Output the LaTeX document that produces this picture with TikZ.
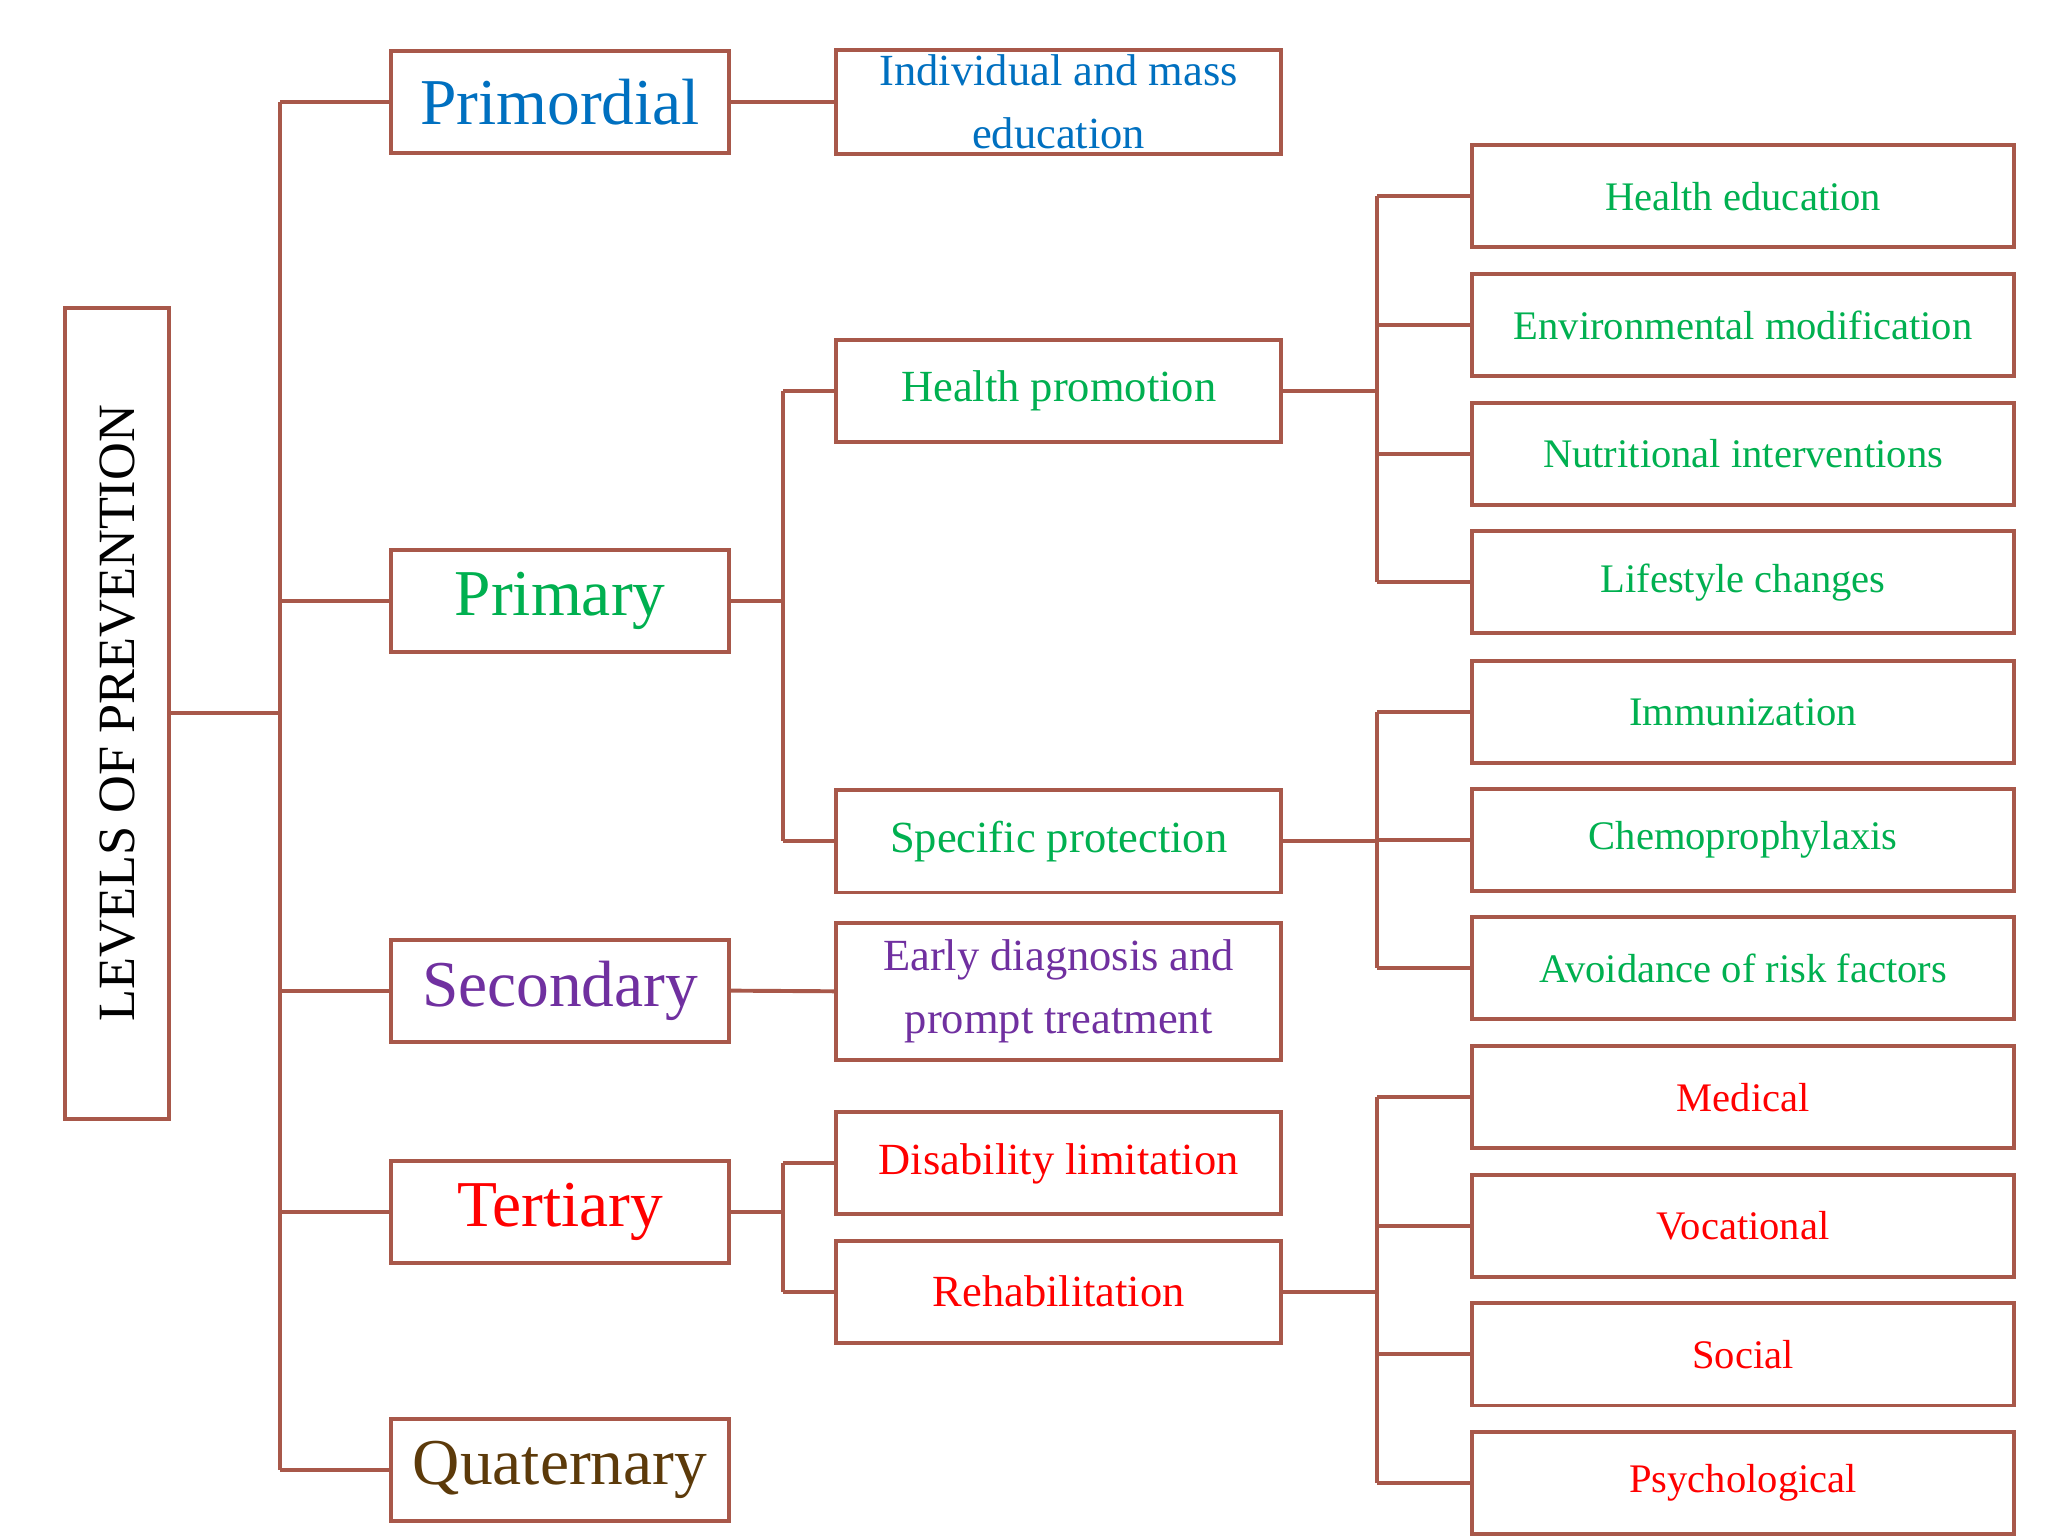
\documentclass[tikz,border=0pt]{standalone}
\usepackage{fontspec}
\setmainfont{Liberation Serif}
\definecolor{ln}{HTML}{A8584A}
\definecolor{cb}{HTML}{0070C0}
\definecolor{cg}{HTML}{00B050}
\definecolor{cp}{HTML}{7030A0}
\definecolor{cr}{HTML}{FF0000}
\definecolor{cq}{HTML}{5C3A0A}
\tikzset{
 box/.style={draw=ln,line width=1.5pt,fill=white,inner sep=2pt,align=center},
 lvtwo/.style={box,minimum width=129pt,minimum height=39pt,font=\fontsize{25}{28}\selectfont},
 lvthree/.style={box,minimum width=170pt,minimum height=39pt,font=\fontsize{17}{24}\selectfont},
 lvfour/.style={box,minimum width=207pt,minimum height=39pt,font=\fontsize{15.5}{18}\selectfont,text=cg},
 conn/.style={draw=ln,line width=1.5pt}
}
\begin{document}
\begin{tikzpicture}[x=0.5pt,y=-0.5pt]
\useasboundingbox (0,0) rectangle (1565,1174);
\node[box,minimum width=310pt,minimum height=39.5pt,rotate=90,font=\fontsize{20}{22}\selectfont] (lev) at (89.5,545) {LEVELS OF PREVENTION};
\node[lvtwo,text=cb] (pm) at (428,78) {Primordial};
\node[lvtwo,text=cg] (pr) at (428,459) {Primary};
\node[lvtwo,text=cp] (se) at (428,757) {Secondary};
\node[lvtwo,text=cr] (te) at (428,926) {Tertiary};
\node[lvtwo,text=cq] (qu) at (428,1123) {Quaternary};
\node[lvthree,text=cb] (ind) at (809,78) {Individual and mass\\education};
\node[lvthree,text=cg] (hp) at (809,299) {Health promotion};
\node[lvthree,text=cg] (sp) at (809,643) {Specific protection};
\node[lvthree,text=cp,minimum height=52.5pt] (ed) at (809,757.5) {Early diagnosis and\\prompt treatment};
\node[lvthree,text=cr] (dl) at (809,889) {Disability limitation};
\node[lvthree,text=cr] (rh) at (809,987) {Rehabilitation};
\node[lvfour] (f1) at (1332,150) {Health education};
\node[lvfour] (f2) at (1332,248.5) {Environmental modification};
\node[lvfour] (f3) at (1332,347) {Nutritional interventions};
\node[lvfour] (f4) at (1332,445) {Lifestyle changes};
\node[lvfour] (f5) at (1332,544) {Immunization};
\node[lvfour] (f6) at (1332,642) {Chemoprophylaxis};
\node[lvfour] (f7) at (1332,740) {Avoidance of risk factors};
\node[lvfour,text=cr] (f8) at (1332,838.5) {Medical};
\node[lvfour,text=cr] (f9) at (1332,937) {Vocational};
\node[lvfour,text=cr] (f10) at (1332,1035) {Social};
\node[lvfour,text=cr] (f11) at (1332,1133) {Psychological};
% buses
\coordinate (b1) at (214,0);
\coordinate (b2) at (598,0);
\coordinate (b3) at (1052,0);
\draw[conn] (lev.south) -- (lev.south -| b1);
\draw[conn] (pm.west -| b1) -- (qu.west -| b1);
\foreach \n in {pm,pr,se,te,qu} \draw[conn] (\n.west) -- (\n.west -| b1);
\draw[conn] (pm.east) -- (ind.west);
\draw[conn] (se.east) -- (ed.west);
\draw[conn] (pr.east) -- (pr.east -| b2);
\draw[conn] (hp.west -| b2) -- (sp.west -| b2);
\foreach \n in {hp,sp} \draw[conn] (\n.west) -- (\n.west -| b2);
\draw[conn] (te.east) -- (te.east -| b2);
\draw[conn] (dl.west -| b2) -- (rh.west -| b2);
\foreach \n in {dl,rh} \draw[conn] (\n.west) -- (\n.west -| b2);
\draw[conn] (hp.east) -- (hp.east -| b3);
\draw[conn] (f1.west -| b3) -- (f4.west -| b3);
\foreach \n in {f1,f2,f3,f4} \draw[conn] (\n.west) -- (\n.west -| b3);
\draw[conn] (sp.east) -- (sp.east -| b3);
\draw[conn] (f5.west -| b3) -- (f7.west -| b3);
\foreach \n in {f5,f6,f7} \draw[conn] (\n.west) -- (\n.west -| b3);
\draw[conn] (rh.east) -- (rh.east -| b3);
\draw[conn] (f8.west -| b3) -- (f11.west -| b3);
\foreach \n in {f8,f9,f10,f11} \draw[conn] (\n.west) -- (\n.west -| b3);
\end{tikzpicture}
\end{document}
